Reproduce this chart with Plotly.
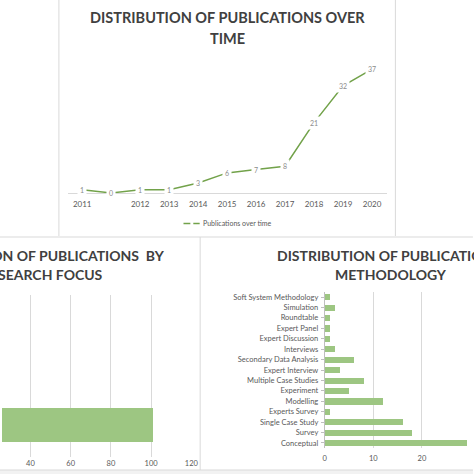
import plotly.graph_objects as go

W = H = 474


def px(x):
    return x / W


def py(y):
    return 1 - y / H


# ---------------- data ----------------
year_tick_labels = ["2011", "", "2012", "2013", "2014", "2015", "2016", "2017", "2018", "2019", "2020"]
publications_over_time = [1, 0, 1, 1, 3, 6, 7, 8, 21, 32, 37]

focus_categories = ["Research focus"]
focus_values = [101]
focus_ticks = [40, 60, 80, 100, 120]

method_categories = [
    "Conceptual", "Survey", "Single Case Study", "Experts Survey", "Modelling",
    "Experiment", "Multiple Case Studies", "Expert Interview", "Secondary Data Analysis",
    "Interviews", "Expert Discussion", "Expert Panel", "Roundtable", "Simulation",
    "Soft System Methodology",
]
method_values = [30, 18, 16, 1, 12, 5, 8, 3, 6, 2, 1, 1, 1, 2, 1]
method_ticks = [0, 10, 20, 30]

# ---------------- styles ----------------
FONT = "Lato"
LINE_GREEN = "#72a24a"
BAR_GREEN = "#9dc682"
GRID = "#d9d9d9"
TICK_GRAY = "#595959"
LABEL_GRAY = "#8c8c8c"
TITLE_GRAY = "#404040"

x_idx = list(range(len(publications_over_time)))

fig = go.Figure()

fig.add_trace(go.Scatter(
    x=x_idx, y=publications_over_time, mode="lines",
    line=dict(color=LINE_GREEN, width=1.5),
    xaxis="x", yaxis="y", showlegend=False, hoverinfo="skip",
))

fig.add_trace(go.Bar(
    x=focus_values, y=focus_categories, orientation="h",
    marker=dict(color=BAR_GREEN, line=dict(width=0)), width=0.63,
    xaxis="x2", yaxis="y2", showlegend=False,
))

fig.add_trace(go.Bar(
    x=method_values, y=method_categories, orientation="h",
    marker=dict(color=BAR_GREEN, line=dict(width=0)), width=0.6,
    xaxis="x3", yaxis="y3", showlegend=False,
))

annotations = []
# data labels on the line chart
for i, v in zip(x_idx, publications_over_time):
    annotations.append(dict(
        x=i, y=v, xref="x", yref="y", text=str(v), showarrow=False,
        font=dict(family=FONT, size=7, color=LABEL_GRAY),
        bgcolor="white", borderpad=2,
    ))

title_font = dict(family=FONT, size=14.5, color=TITLE_GRAY, weight="bold")
title_font_b = dict(family=FONT, size=14, color=TITLE_GRAY, weight="bold")

annotations += [
    dict(x=px(229.5), y=py(18), xref="paper", yref="paper", text="DISTRIBUTION OF PUBLICATIONS OVER",
         showarrow=False, font=title_font, xanchor="center", yanchor="middle"),
    dict(x=px(229.5), y=py(38), xref="paper", yref="paper", text="TIME",
         showarrow=False, font=title_font, xanchor="center", yanchor="middle"),
    dict(x=px(168), y=py(255), xref="paper", yref="paper", text="DISTRIBUTION OF PUBLICATIONS\u00a0 BY",
         showarrow=False, font=title_font_b, xanchor="right", yanchor="middle"),
    dict(x=px(105), y=py(274), xref="paper", yref="paper", text="RESEARCH FOCUS",
         showarrow=False, font=title_font_b, xanchor="right", yanchor="middle"),
    dict(x=px(278), y=py(255), xref="paper", yref="paper", text="DISTRIBUTION OF PUBLICATIONS BY",
         showarrow=False, font=title_font_b, xanchor="left", yanchor="middle"),
    dict(x=px(397), y=py(274), xref="paper", yref="paper", text="METHODOLOGY",
         showarrow=False, font=title_font_b, xanchor="center", yanchor="middle"),
    dict(x=px(203), y=py(223), xref="paper", yref="paper",
         text="Publications over time",
         showarrow=False, font=dict(family=FONT, size=7, color=TICK_GRAY),
         xanchor="left", yanchor="middle"),
]

border = dict(color=GRID, width=1)
legend_dash = dict(color=LINE_GREEN, width=1.5)
shapes = [
    dict(type="rect", xref="paper", yref="paper", x0=px(-5), x1=px(480), y0=py(470), y1=py(480),
         fillcolor="#f2f2f2", line=dict(width=0), layer="below"),
    dict(type="line", xref="paper", yref="paper", x0=px(58), x1=px(58), y0=py(-2), y1=py(236), line=border),
    dict(type="line", xref="paper", yref="paper", x0=px(401), x1=px(401), y0=py(-2), y1=py(236), line=border),
    dict(type="line", xref="paper", yref="paper", x0=px(-5), x1=px(480), y0=py(237), y1=py(237), line=border),
    dict(type="line", xref="paper", yref="paper", x0=px(202), x1=px(202), y0=py(237), y1=py(470), line=border),
    dict(type="line", xref="paper", yref="paper", x0=px(-5), x1=px(480), y0=py(470), y1=py(470), line=border),
    # legend sample (long-dash line)
    dict(type="line", xref="paper", yref="paper", x0=px(185), x1=px(192), y0=py(223.5), y1=py(223.5), line=legend_dash),
    dict(type="line", xref="paper", yref="paper", x0=px(195), x1=px(201.5), y0=py(223.5), y1=py(223.5), line=legend_dash),
]

tickfont = dict(family=FONT, size=8, color=TICK_GRAY)
tickfont_small = dict(family=FONT, size=7.5, color=TICK_GRAY)

fig.update_layout(
    width=W, height=H, margin=dict(l=0, r=0, t=0, b=0),
    paper_bgcolor="white", plot_bgcolor="rgba(0,0,0,0)",
    font=dict(family=FONT),
    showlegend=False,
    bargap=0,
    xaxis=dict(domain=[px(67), px(392)], range=[-0.5, 10.5], tickvals=x_idx, ticktext=year_tick_labels,
               showline=True, linecolor=GRID, linewidth=1, showgrid=False, zeroline=False,
               ticks="", ticklabelstandoff=3, tickfont=tickfont, anchor="y", fixedrange=True),
    yaxis=dict(domain=[py(193), py(59)], range=[0, 40], visible=False, anchor="x", fixedrange=True),
    xaxis2=dict(domain=[0, px(193)], range=[25.85, 120], tickvals=focus_ticks,
                showgrid=True, gridcolor=GRID, gridwidth=1, zeroline=False, showline=False,
                ticks="", tickfont=tickfont_small, anchor="y2", fixedrange=True),
    yaxis2=dict(domain=[py(457), py(295)], type="category", range=[-0.59, 2.41],
                showticklabels=False, showgrid=False, zeroline=False, showline=False,
                anchor="x2", fixedrange=True),
    xaxis3=dict(domain=[px(329), 1], range=[0, 29.29], tickvals=method_ticks,
                showgrid=True, gridcolor=GRID, gridwidth=1, zeroline=False, showline=False,
                ticks="", ticklabelstandoff=4, tickfont=tickfont_small, anchor="y3", fixedrange=True),
    yaxis3=dict(domain=[py(448.2), py(291.8)], type="category",
                categoryorder="array", categoryarray=method_categories, range=[-0.5, 14.5],
                showline=True, linecolor="#bfbfbf", linewidth=1, showgrid=False, zeroline=False,
                ticks="outside", ticklen=3, tickcolor="#bfbfbf", ticklabelstandoff=1,
                tickfont=dict(family=FONT, size=7.5, color=TICK_GRAY), anchor="x3", fixedrange=True),
    annotations=annotations,
    shapes=shapes,
)

fig.write_html("out.html", config={"displayModeBar": False},
               post_script="document.body.style.margin='0';")
